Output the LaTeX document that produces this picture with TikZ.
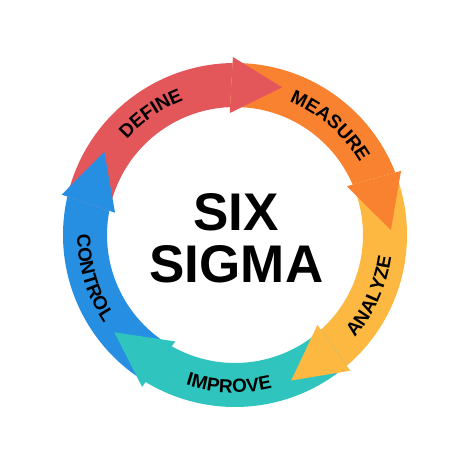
\documentclass[tikz,border=0pt]{standalone}
\usepackage{fontspec}
\setmainfont{Liberation Sans}
\usetikzlibrary{calc,decorations.text}
\definecolor{cdef}{HTML}{E3575B}
\definecolor{cmea}{HTML}{F98231}
\definecolor{cana}{HTML}{FCB840}
\definecolor{cimp}{HTML}{2FC4BE}
\definecolor{ccon}{HTML}{268FE2}
\newcommand\lblfont{\fontsize{19}{19}\selectfont\bfseries}
\tikzset{
  titletext/.style={font=\fontsize{53}{53}\selectfont\bfseries, text=black, inner sep=0pt, anchor=base},
  arclabel/.style={decorate, decoration={text along path, text={|\lblfont|#1}, text align=center}}
}
\begin{document}
\begin{tikzpicture}[x=1pt,y=1pt]
\useasboundingbox[fill=white] (-235,-239) rectangle (239,235);
% ---- bodies (drawn first) ----
% DEFINE
\fill[cdef] (167.1:172) arc[start angle=167.1, end angle=90.8, radius=172]
  -- (92.2:128) arc[start angle=92.2, end angle=169.1, radius=128] -- cycle;
% MEASURE
\fill[cmea] (90.8:172) arc[start angle=90.8, end angle=21.3, radius=172]
  -- (23.2:128) arc[start angle=23.2, end angle=92.2, radius=128] -- cycle;
% ANALYZE
\fill[cana] (21.3:172) arc[start angle=21.3, end angle=-49.5, radius=172]
  -- (-47.8:128) arc[start angle=-47.8, end angle=23.2, radius=128] -- cycle;
% IMPROVE
\fill[cimp] (-49.5:172) arc[start angle=-49.5, end angle=-121.3, radius=172]
  -- (-119.6:128) arc[start angle=-119.6, end angle=-47.8, radius=128] -- cycle;
% CONTROL
\fill[ccon] (238.7:172) arc[start angle=238.7, end angle=167.1, radius=172]
  -- (169.1:128) arc[start angle=169.1, end angle=240.4, radius=128] -- cycle;
% ---- heads ----
\fill[cdef] ($(92.2:128)!-0.13636!(90.8:172)$) -- (72.3:155) -- ($(92.2:128)!1.13636!(90.8:172)$) -- cycle;
\fill[cmea] ($(23.2:128)!-0.13636!(21.3:172)$) -- (1.8:156) -- ($(23.2:128)!1.13636!(21.3:172)$) -- cycle;
\fill[cana] ($(-47.8:128)!-0.13636!(-49.5:172)$) -- (-68.9:156) -- ($(-47.8:128)!1.13636!(-49.5:172)$) -- cycle;
\fill[cimp] ($(240.4:128)!-0.13636!(238.7:172)$) -- (218.9:155) -- ($(240.4:128)!1.13636!(238.7:172)$) -- cycle;
\fill[ccon] ($(169.1:128)!-0.13636!(167.1:172)$) -- (147.5:155) -- ($(169.1:128)!1.13636!(167.1:172)$) -- cycle;
% ---- labels along the ring ----
\path[arclabel=DEFINE] (169.7:144.2) arc[start angle=169.7, end angle=79.7, radius=144.2];
\path[arclabel=MEASURE] (94:144.2) arc[start angle=94, end angle=4, radius=144.2];
\path[arclabel=ANALYZE] (-69.4:157.8) arc[start angle=-69.4, end angle=20.6, radius=157.8];
\path[arclabel=IMPROVE] (222.7:157.8) arc[start angle=222.7, end angle=312.7, radius=157.8];
\path[arclabel=CONTROL] (151.8:157.8) arc[start angle=151.8, end angle=241.8, radius=157.8];
% ---- title ----
\node[titletext] (six) at (1,5) {SIX};
\node[titletext] (sigma) at (1.5,-47) {SIGMA};
\end{tikzpicture}
\end{document}
